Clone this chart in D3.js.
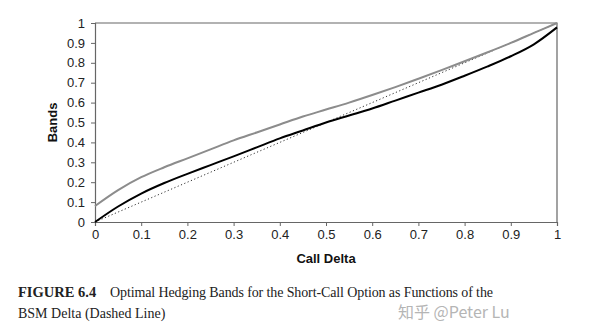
<!DOCTYPE html>
<html>
<head>
<meta charset="utf-8">
<script src="https://cdn.jsdelivr.net/npm/d3@7"></script>
<style>
  body { margin: 0; background: #fff; }
  svg { display: block; }
</style>
</head>
<body>
<div id="chart"></div>
<script>
// call delta values (x axis)
var callDelta = [0, 0.05, 0.1, 0.15, 0.2, 0.25, 0.3, 0.35, 0.4, 0.45, 0.5,
                 0.55, 0.6, 0.65, 0.7, 0.75, 0.8, 0.85, 0.9, 0.95, 1];
// upper band (gray line)
var upperBand = [0.08, 0.16, 0.225, 0.275, 0.32, 0.365, 0.41, 0.45, 0.49, 0.53, 0.565,
                 0.60, 0.638, 0.678, 0.72, 0.763, 0.808, 0.853, 0.9, 0.95, 1.0];
// lower band (black line)
var lowerBand = [0, 0.078, 0.143, 0.196, 0.242, 0.286, 0.33, 0.375, 0.42, 0.46, 0.50,
                 0.535, 0.57, 0.61, 0.65, 0.69, 0.735, 0.782, 0.833, 0.893, 0.978];
// BSM delta (dashed diagonal)
var bsmX = [0, 1];
var bsmY = [0, 1];

var tickValues = [0, 0.1, 0.2, 0.3, 0.4, 0.5, 0.6, 0.7, 0.8, 0.9, 1];

var w = 600, h = 335;
var plotLeft = 95, plotRight = 557, plotTop = 23, plotBottom = 222;

var svg = d3.select("#chart").append("svg")
  .attr("width", w)
  .attr("height", h);

var xScale = d3.scaleLinear().domain([0, 1]).range([plotLeft, plotRight]);
var yScale = d3.scaleLinear().domain([0, 1]).range([plotBottom, plotTop]);

var fmt = function(d) { return d === 0 || d === 1 ? String(d) : d3.format(".1f")(d); };

// frame (top + right)
svg.append("path")
  .attr("d", "M" + plotLeft + "," + plotTop + "H" + plotRight + "V" + plotBottom)
  .attr("fill", "none")
  .attr("stroke", "#666")
  .attr("stroke-width", 1.2);

// x axis
var xAxis = svg.append("g")
  .attr("transform", "translate(0," + plotBottom + ")")
  .call(d3.axisBottom(xScale).tickValues(tickValues).tickFormat(fmt).tickSize(4).tickPadding(4));

// y axis
var yAxis = svg.append("g")
  .attr("transform", "translate(" + plotLeft + ",0)")
  .call(d3.axisLeft(yScale).tickValues(tickValues).tickFormat(fmt).tickSize(4).tickPadding(6));

[xAxis, yAxis].forEach(function(a) {
  a.select(".domain").attr("stroke", "#666").attr("stroke-width", 1.2);
  a.selectAll(".tick line").attr("stroke", "#666");
  a.selectAll(".tick text")
    .style("font", "13px 'Liberation Sans', Arial, sans-serif")
    .attr("fill", "#222");
});

var line = d3.line()
  .x(function(d) { return xScale(d[0]); })
  .y(function(d) { return yScale(d[1]); })
  .curve(d3.curveMonotoneX);

// dashed BSM delta
svg.append("path")
  .datum(d3.zip(bsmX, bsmY))
  .attr("d", line)
  .attr("fill", "none")
  .attr("stroke", "#333")
  .attr("stroke-width", 1)
  .attr("stroke-dasharray", "1.2,2.4");

// upper band
svg.append("path")
  .datum(d3.zip(callDelta, upperBand))
  .attr("d", line)
  .attr("fill", "none")
  .attr("stroke", "#8c8c8c")
  .attr("stroke-width", 2);

// lower band
svg.append("path")
  .datum(d3.zip(callDelta, lowerBand))
  .attr("d", line)
  .attr("fill", "none")
  .attr("stroke", "#000")
  .attr("stroke-width", 2);

// axis titles
svg.append("text")
  .attr("x", (plotLeft + plotRight) / 2)
  .attr("y", 263)
  .attr("text-anchor", "middle")
  .style("font", "bold 13px 'Liberation Sans', Arial, sans-serif")
  .attr("fill", "#111")
  .text("Call Delta");

svg.append("text")
  .attr("transform", "translate(57," + ((plotTop + plotBottom) / 2) + ") rotate(-90)")
  .attr("text-anchor", "middle")
  .style("font", "bold 13px 'Liberation Sans', Arial, sans-serif")
  .attr("fill", "#111")
  .text("Bands");

// caption
var cap = svg.append("text")
  .attr("x", 18)
  .attr("y", 297)
  .style("font", "14px 'Liberation Serif', 'DejaVu Serif', serif")
  .attr("fill", "#222");
cap.append("tspan").style("font-weight", "bold").style("font-size", "14.5px").text("FIGURE 6.4");
cap.append("tspan").attr("x", 110).attr("textLength", 383)
  .text("Optimal Hedging Bands for the Short-Call Option as Functions of the");

svg.append("text")
  .attr("x", 18)
  .attr("y", 318)
  .style("font", "14px 'Liberation Serif', 'DejaVu Serif', serif")
  .attr("fill", "#222")
  .text("BSM Delta (Dashed Line)");

// watermark
svg.append("text")
  .attr("x", 398)
  .attr("y", 318)
  .style("font", "16px 'Noto Sans CJK SC', 'Noto Sans', sans-serif")
  .attr("fill", "#b5b5b5")
  .text("知乎 @Peter Lu");
</script>
</body>
</html>
